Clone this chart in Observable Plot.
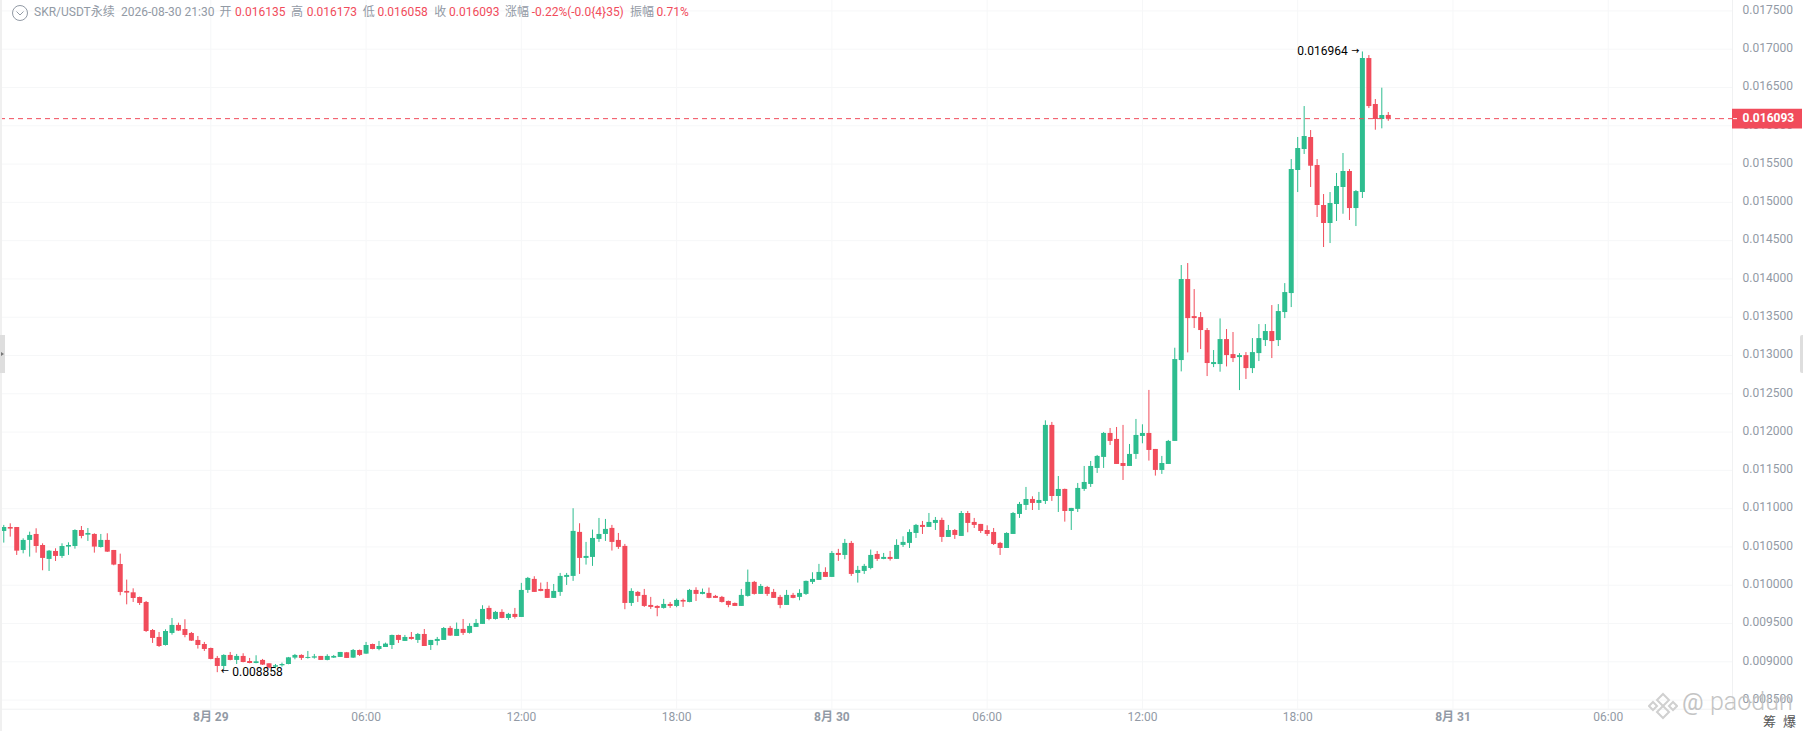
<!DOCTYPE html>
<html lang="zh">
<head>
<meta charset="utf-8">
<title>SKR/USDT</title>
<script src="https://cdn.jsdelivr.net/npm/d3@7"></script>
<script src="https://cdn.jsdelivr.net/npm/@observablehq/plot@0.6"></script>
<style>
html,body{margin:0;padding:0;background:#fff;overflow:hidden}
body{width:1803px;height:731px;position:relative;font-family:Roboto,"Noto Sans CJK SC",sans-serif}
#chart{position:absolute;left:0;top:0}
#chart svg{display:block;background:#fff}
.hd{position:absolute;top:5px;font-size:12px;line-height:14px;white-space:nowrap;color:#929AA5}
.up{color:#F14C5B}
.tab{position:absolute;top:335px;height:38px;background:#DEDEDE}
.wm{position:absolute;white-space:nowrap}
</style>
</head>
<body>
<div id="chart"></div>
<div id="overlay"></div>
<script>
// price in millionths of USDT, one value per 15-minute candle
const startTime = "2026-08-28T16:00:00Z";
const open = [
10702,10754,10754,10454,10585,10663,10519,10337,10441,10376,
10498,10506,10715,10654,10663,10493,10585,10454,10271,9919,
9901,9840,9775,9409,9318,9213,9370,9475,9422,9370,
9279,9226,9174,9044,8939,9083,9018,9070,9004,8978,
9018,8974,8930,8948,8965,9048,9083,9044,9048,9070,
9018,9048,9057,9118,9048,9148,9100,9226,9161,9187,
9213,9344,9266,9318,9279,9357,9213,9266,9279,9436,
9331,9423,9371,9449,9488,9697,9553,9645,9566,9619,
9579,9932,10076,9945,9945,9828,9906,10102,10115,10690,
10350,10363,10598,10663,10742,10585,10507,9762,9906,9867,
9736,9723,9697,9749,9723,9801,9775,9932,9880,9893,
9854,9841,9788,9762,9723,9854,10037,9880,9971,9906,
9841,9736,9867,9841,9880,10037,10063,10167,10102,10415,
10389,10546,10154,10180,10219,10402,10337,10363,10337,10520,
10546,10676,10781,10755,10807,10846,10624,10715,10637,10937,
10820,10794,10715,10689,10546,10480,10663,10924,11042,11120,
11068,11094,12087,11159,11251,10963,10990,11251,11316,11525,
11669,11982,11904,11590,11551,11708,11943,11982,11773,11499,
11577,11878,12934,13992,13508,13495,13326,12882,12882,13208,
13012,12973,12999,12829,13025,13195,13313,13195,13561,13809,
15416,15690,15847,15481,14959,14724,14972,15194,15403,14919,
15128,16878,16278,16082,16135];
const high = [
10781,10802,10754,10606,10693,10737,10541,10454,10476,10541,
10554,10724,10767,10741,10672,10663,10672,10454,10406,10067,
9953,9845,9788,9422,9383,9418,9566,9505,9549,9383,
9331,9253,9179,9070,9092,9122,9096,9105,9044,9079,
9031,8974,8965,8983,9057,9096,9092,9135,9096,9070,
9092,9083,9122,9122,9161,9153,9253,9231,9266,9244,
9348,9348,9344,9383,9370,9422,9279,9318,9448,9462,
9506,9553,9497,9553,9732,9727,9658,9680,9632,9697,
10024,10102,10111,10028,10037,10010,10154,10154,10999,10803,
10559,10720,10872,10859,10781,10676,10533,9954,9919,9945,
9841,9732,9815,9775,9819,9819,9945,9967,9950,9963,
9867,9854,9793,9767,9945,10198,10050,10010,9984,9945,
9867,9932,9893,9941,10054,10163,10272,10228,10441,10468,
10598,10572,10246,10272,10459,10441,10415,10441,10594,10633,
10724,10794,10833,10937,10885,10876,10781,10728,10963,10963,
10872,10794,10776,10741,10559,10685,10950,11081,11277,11155,
11212,12147,12126,11420,11255,11003,11329,11551,11616,11695,
11995,12047,12060,12087,11838,12165,12095,12544,11773,11682,
11891,13095,14175,14201,13861,13561,13352,13065,13478,13339,
13300,13025,13038,13221,13404,13404,13652,13665,13939,15559,
15847,16251,15938,15559,15102,15128,15377,15638,15429,15155,
16964,16917,16343,16491,16173];
const low = [
10550,10628,10389,10410,10367,10419,10189,10180,10310,10350,
10389,10471,10606,10572,10419,10485,10428,10254,9862,9744,
9775,9736,9383,9240,9187,9205,9348,9396,9314,9266,
9166,9135,9026,8858,8896,9013,8965,8987,8974,8974,
8952,8909,8909,8930,8961,9026,9018,9035,9035,9018,
9013,9044,9057,9044,9044,9070,9096,9157,9144,9187,
9161,9240,9266,9283,9240,9200,9148,9209,9279,9331,
9331,9344,9362,9449,9488,9536,9545,9562,9540,9558,
9579,9893,9906,9915,9828,9828,9854,9997,10050,10141,
10263,10246,10559,10572,10446,10468,9680,9723,9775,9710,
9684,9588,9688,9697,9706,9710,9771,9788,9875,9823,
9828,9767,9706,9723,9723,9845,9871,9880,9854,9828,
9693,9736,9823,9797,9867,10010,10063,10102,10102,10311,
10333,10115,10028,10141,10202,10311,10333,10315,10337,10493,
10480,10611,10663,10755,10715,10559,10624,10598,10637,10685,
10741,10676,10637,10519,10389,10480,10663,10872,10976,10976,
10976,11055,11094,10950,10824,10715,10950,11225,11277,11460,
11525,11825,11577,11368,11551,11643,11847,11621,11425,11447,
11577,11878,12786,13034,13352,13078,12725,12842,12782,12851,
12908,12542,12686,12764,12921,13117,12960,13117,13482,13626,
15128,15625,15194,14802,14410,14462,14750,14845,14763,14684,
15050,16225,15942,15960,16058];
const close = [
10754,10733,10445,10585,10650,10506,10350,10445,10376,10506,
10519,10715,10637,10676,10498,10585,10432,10263,9906,9897,
9827,9762,9396,9305,9200,9396,9475,9401,9344,9270,
9213,9161,9031,8939,9083,9018,9070,8991,8978,9000,
8957,8917,8948,8965,9052,9083,9044,9057,9065,9018,
9070,9070,9122,9044,9148,9083,9213,9161,9200,9231,
9344,9279,9318,9292,9357,9200,9279,9292,9435,9336,
9423,9371,9462,9501,9684,9553,9645,9566,9619,9579,
9932,10089,9906,9919,9828,9919,10115,10128,10703,10350,
10376,10611,10663,10729,10559,10494,9762,9919,9854,9723,
9710,9697,9749,9723,9801,9780,9932,9880,9906,9828,
9828,9775,9736,9723,9867,10037,9880,9984,9880,9828,
9736,9867,9828,9893,10050,10076,10167,10102,10415,10389,
10546,10141,10193,10246,10389,10337,10363,10337,10520,10559,
10689,10781,10755,10820,10846,10624,10715,10650,10937,10807,
10781,10702,10663,10532,10480,10676,10937,11055,11120,11068,
11107,12087,11159,11251,10963,11003,11264,11342,11551,11682,
11982,11878,11577,11551,11708,11956,11982,11760,11499,11590,
11878,12947,13992,13482,13482,13326,12895,12908,13208,12999,
12960,12999,12829,13038,13221,13313,13182,13574,13822,15429,
15703,15860,15472,14959,14724,14985,15207,15403,14919,15141,
16878,16251,16082,16134,16093];

const yTicks = [0.0085,0.009,0.0095,0.01,0.0105,0.011,0.0115,0.012,0.0125,0.013,0.0135,0.014,0.0145,0.015,0.0155,0.016,0.0165,0.017,0.0175];
const dayTicks = ["2026-08-29T00:00:00Z","2026-08-30T00:00:00Z","2026-08-31T00:00:00Z"];
const dayLabels = ["8月 29","8月 30","8月 31"];
const hourTicks = ["2026-08-29T06:00:00Z","2026-08-29T12:00:00Z","2026-08-29T18:00:00Z","2026-08-30T06:00:00Z","2026-08-30T12:00:00Z","2026-08-30T18:00:00Z","2026-08-31T06:00:00Z"];
const hourLabels = ["06:00","12:00","18:00","06:00","12:00","18:00","06:00"];
const lowIndex = 33, lowLabel = "0.008858";
const highIndex = 210, highLabel = "0.016964";
const lastPrice = 0.016093;

const headerItems = [
  ["SKR/USDT永续", 34, ""], ["2026-08-30 21:30", 121, ""],
  ["开", 219.5, ""], ["0.016135", 235, "up"],
  ["高", 291, ""], ["0.016173", 306.7, "up"],
  ["低", 362.7, ""], ["0.016058", 377.4, "up"],
  ["收", 434.3, ""], ["0.016093", 449, "up"],
  ["涨幅", 505, ""], ["-0.22%(-0.0{4}35)", 531.7, "up"],
  ["振幅", 630, ""], ["0.71%", 656.6, "up"]
];

const GREEN = "#2EBD8F", RED = "#F14C5B", GREY = "#929AA5", GRID = "#F6F7F8";
const t0 = new Date(startTime).getTime();
const candles = d3.range(open.length).map(i => ({
  time: new Date(t0 + i * 15 * 60000),
  open: open[i] / 1e6, high: high[i] / 1e6, low: low[i] / 1e6, close: close[i] / 1e6
}));
const colorOf = d => d.close >= d.open ? GREEN : RED;
const parse = s => new Date(s);
const labelOf = (ticks, labels) => d => labels[ticks.findIndex(s => +parse(s) === +d)];
const allX = [...dayTicks, ...hourTicks].map(parse);

const plot = Plot.plot({
  width: 1803, height: 731,
  marginLeft: 0, marginRight: 71, marginTop: 0, marginBottom: 22.3,
  style: {fontFamily: 'Roboto, "Noto Sans CJK SC", sans-serif', fontSize: "12px", background: "#fff"},
  x: {type: "utc", domain: [new Date("2026-08-28T15:52:24Z"), new Date("2026-08-31T10:48:06Z")]},
  y: {domain: [0.008381, 0.017636]},
  marks: [
    Plot.gridX(allX, {stroke: GRID, strokeOpacity: 1}),
    Plot.gridY(yTicks, {stroke: GRID, strokeOpacity: 1}),
    Plot.frame({anchor: "bottom", stroke: "#F0F1F2"}),
    Plot.frame({anchor: "right", stroke: "#F0F1F2"}),
    Plot.axisY({anchor: "right", ticks: yTicks, tickFormat: d3.format(".6f"), tickSize: 0, tickPadding: 10, dy: -1, color: GREY, label: null, fontSize: 12}),
    Plot.axisX({anchor: "bottom", ticks: hourTicks.map(parse), tickFormat: labelOf(hourTicks, hourLabels), tickSize: 0, tickPadding: 3, color: GREY, label: null, fontSize: 12}),
    Plot.axisX({anchor: "bottom", ticks: dayTicks.map(parse), tickFormat: labelOf(dayTicks, dayLabels), tickSize: 0, tickPadding: 3, color: GREY, label: null, fontSize: 12, fontWeight: "bold"}),
    Plot.ruleX(candles, {x: "time", y1: "low", y2: "high", stroke: colorOf, strokeWidth: 1}),
    Plot.ruleX(candles, {x: "time", y1: "open", y2: "close", stroke: colorOf, strokeWidth: 5}),
    Plot.ruleY([lastPrice], {stroke: RED, strokeDasharray: "5,4", strokeWidth: 1}),
    Plot.ruleY([lastPrice], {stroke: RED, strokeWidth: 19.7, insetLeft: 1732, insetRight: -70}),
    Plot.ruleY([lastPrice], {stroke: "#fff", strokeWidth: 1, insetLeft: 1733, insetRight: -5}),
    Plot.text([lastPrice], {y: d => d, frameAnchor: "right", textAnchor: "start", dx: 10, text: d => d.toFixed(6), fill: "#fff", fontWeight: "bold", fontSize: 12}),
    Plot.text([candles[highIndex]], {x: "time", y: "high", text: () => highLabel, textAnchor: "end", dx: -14.7, dy: -1, fill: "#000", fontSize: 12}),
    Plot.text([candles[highIndex]], {x: "time", y: "high", text: () => "→", textAnchor: "end", dx: -3, dy: -1, fill: "#000", fontSize: 8, fontWeight: "bold"}),
    Plot.text([candles[lowIndex]], {x: "time", y: "low", text: () => "←", textAnchor: "start", dx: 3.5, dy: -1, fill: "#000", fontSize: 8, fontWeight: "bold"}),
    Plot.text([candles[lowIndex]], {x: "time", y: "low", text: () => lowLabel, textAnchor: "start", dx: 15, dy: -1, fill: "#000", fontSize: 12})
  ]
});
document.getElementById("chart").append(plot);

const ov = document.getElementById("overlay");
let html = "";
for (const [text, left, cls] of headerItems) html += `<span class="hd ${cls}" style="left:${left}px">${text}</span>`;
html += `<svg style="position:absolute;left:11px;top:4px" width="18" height="18" viewBox="0 0 18 18"><circle cx="9" cy="9" r="7.5" fill="none" stroke="#929AA5"/><path d="M5.5 7.5 L9 11 L12.5 7.5" fill="none" stroke="#929AA5"/></svg>`;
html += `<div style="position:absolute;left:0;top:0;width:1.5px;height:731px;background:#F0F0F0"></div>`;
html += `<div class="tab" style="left:0;width:5px"></div><div class="tab" style="left:1799.5px;width:3.5px;border-radius:2px 0 0 2px"></div>`;
html += `<div style="position:absolute;left:1px;top:352px;width:0;height:0;border-left:3px solid #777;border-top:2.5px solid transparent;border-bottom:2.5px solid transparent"></div>`;
html += `<svg style="position:absolute;left:1648px;top:691px" width="30" height="30" viewBox="0 0 30 30"><g fill="none" stroke="#D0D0D0" stroke-width="2"><path d="M15 3 L21 9 L15 15 L9 9 Z"/><path d="M15 15 L21 21 L15 27 L9 21 Z"/><path d="M5 11 L9 15 L5 19 L1 15 Z"/><path d="M25 11 L29 15 L25 19 L21 15 Z"/></g></svg>`;
html += `<div class="wm" style="left:1682px;top:688px;font-size:24px;line-height:28px;color:#C4C4C4">@</div>`;
html += `<div class="wm" style="left:1710px;top:687px;font-size:25px;line-height:30px;color:#C4C4C4;font-weight:300">paodun</div>`;
html += `<div class="wm" style="left:1763px;top:714px;font-size:13px;line-height:15px;color:#555;letter-spacing:7px">筹爆</div>`;
ov.innerHTML = html;
</script>
</body>
</html>
